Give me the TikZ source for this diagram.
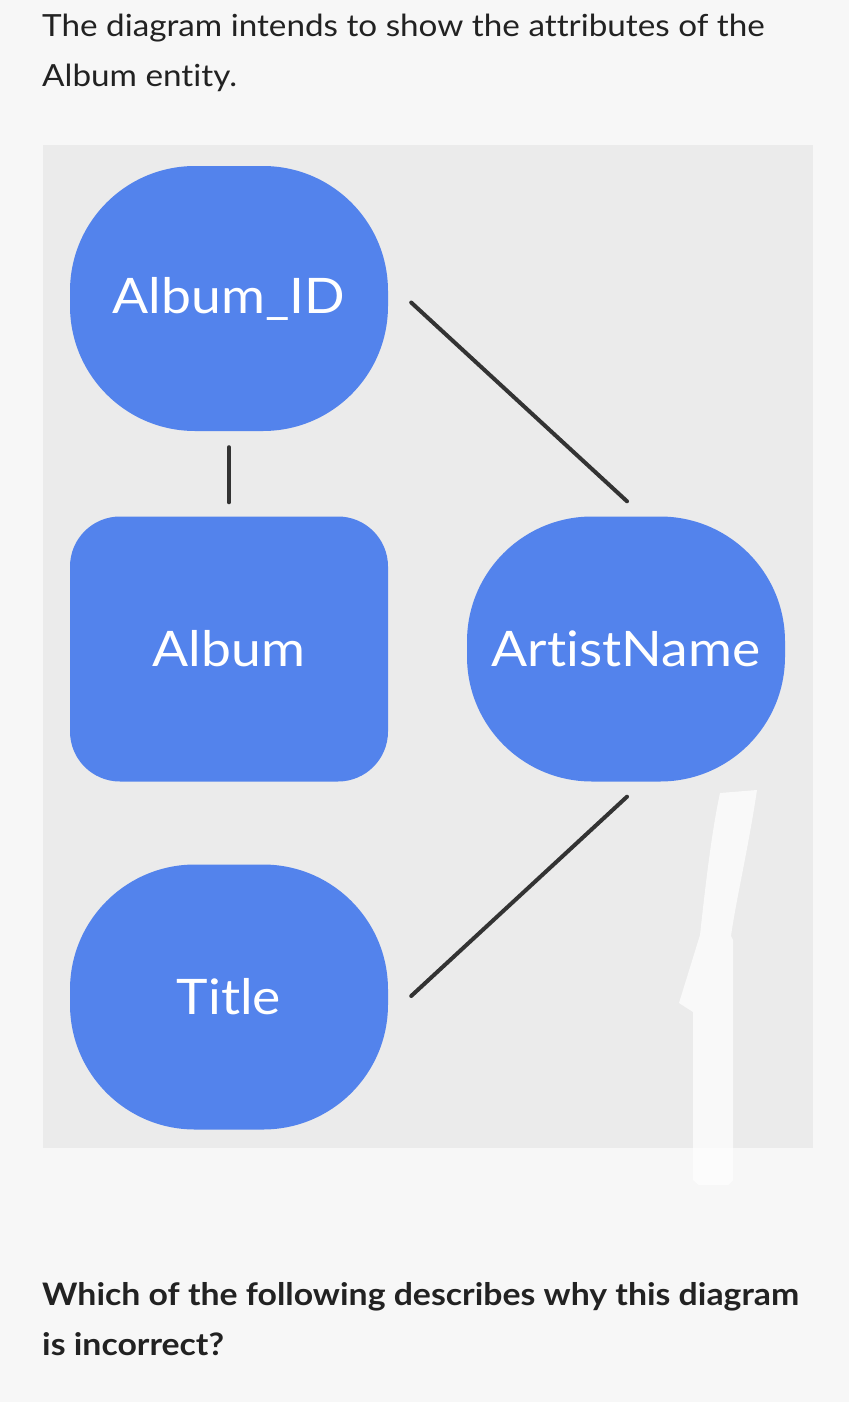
\documentclass[tikz,border=0pt]{standalone}
\usepackage{fontspec}
\setmainfont{Lato}[Ligatures=NoCommon, FakeStretch=1.09]
\usetikzlibrary{positioning}
\definecolor{attrblue}{HTML}{5383EC}
\definecolor{pagegray}{HTML}{F7F7F7}
\definecolor{panelgray}{HTML}{EBEBEB}
\definecolor{linegray}{HTML}{333333}
\definecolor{textdark}{HTML}{222222}

\begin{document}
\begin{tikzpicture}[x=1pt, y=-1pt,
    attr/.style={fill=attrblue, minimum width=318pt, minimum height=265pt, rounded corners=125pt, inner sep=0pt, text=white, font=\fontsize{49}{58}\selectfont},
    entity/.style={attr, rounded corners=50pt},
    link/.style={draw=linegray, line width=4pt, line cap=round},
    para/.style={anchor=base west, align=left, inner sep=0pt, text=textdark, font=\fontsize{30.5}{50}\selectfont}
]
\useasboundingbox (0,0) rectangle (849,1402);
\fill[pagegray] (0,0) rectangle (849,1402);
\fill[panelgray] (43,145) rectangle (813,1148);

\node[para] (intro) at (42,87) {The diagram intends to show the attributes of the\\Album entity.};

\node[attr] (aid) at (229,298.5) {Album\_ID};
\node[entity] (album) at (229,649) {Album};
\node[attr] (artist) at (626,649) {ArtistName};
\node[attr] (title) at (229,997) {Title};

\draw[link, shorten <=16pt, shorten >=14pt] (aid) -- (album);
\draw[link] ([shift={(23,4)}]aid.east) -- ([shift={(1,-15)}]artist.north);
\draw[link] ([shift={(1,15)}]artist.south) -- ([shift={(23,-1)}]title.east);

\fill[white, opacity=0.7] (720,793) -- (757,790) .. controls (748,850) and (736,900) .. (731,936)
    -- (733,940) -- (733,1180) -- (728,1185) -- (699,1185) -- (693,1180) -- (693,1012) -- (679,1003)
    -- (700,935) .. controls (706,880) and (712,830) .. (720,793) -- cycle;

\node[para, font=\fontsize{31}{50}\selectfont\bfseries] (question) at (42,1355) {Which of the following describes why this diagram\\is incorrect?};
\end{tikzpicture}
\end{document}
